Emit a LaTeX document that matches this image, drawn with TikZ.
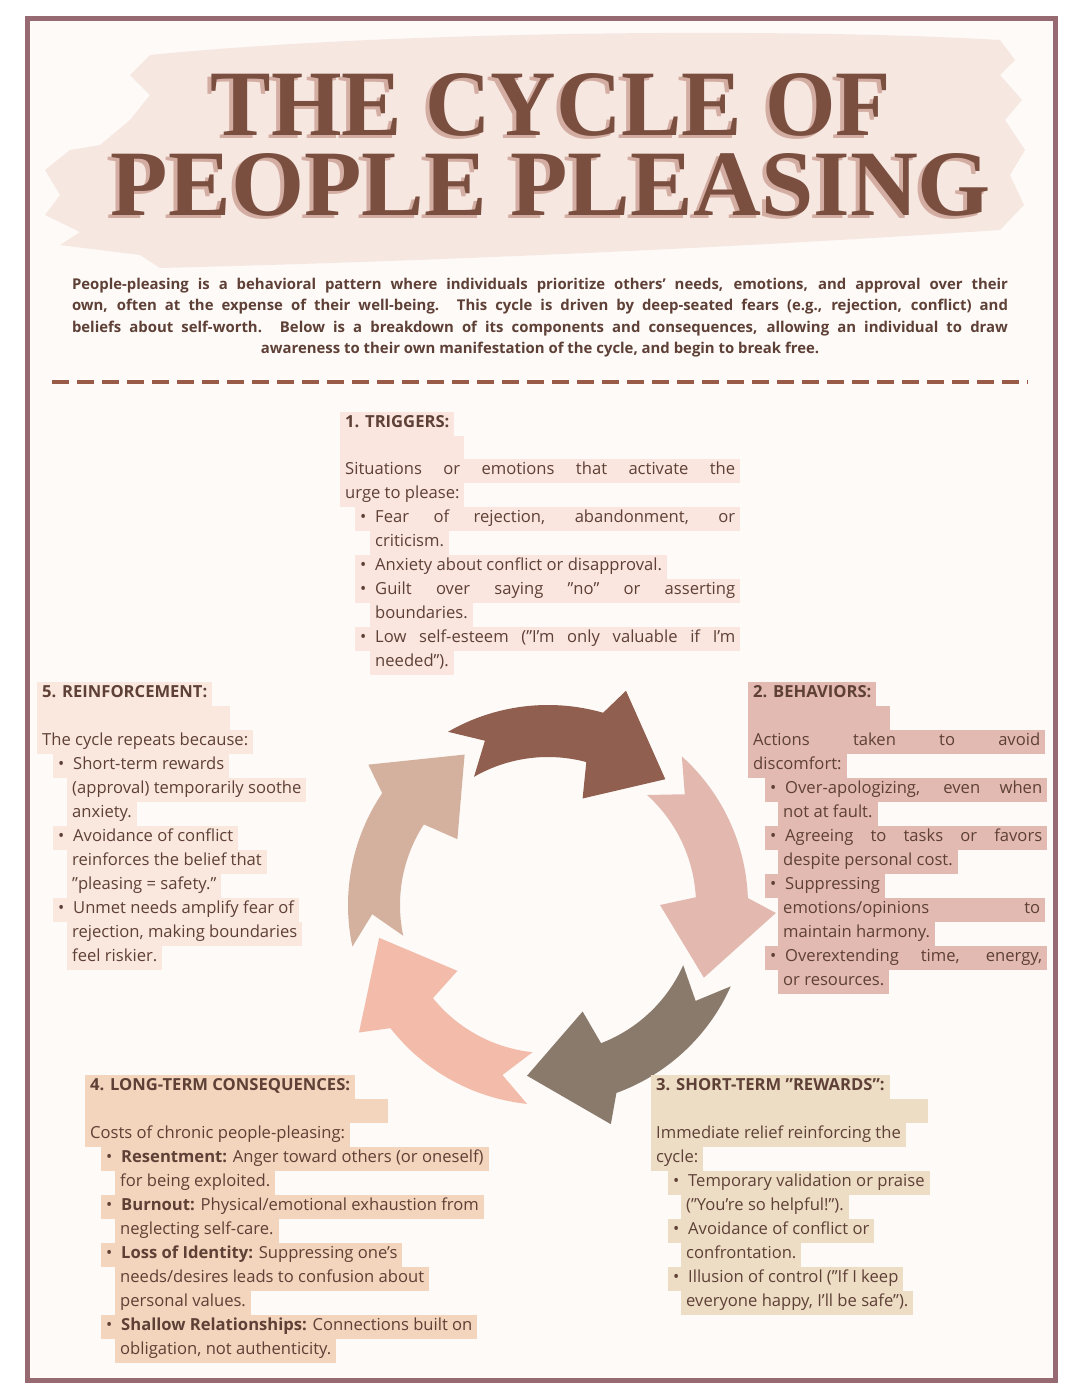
\documentclass[tikz,border=0pt]{standalone}
\usepackage{fontspec}
\setmainfont{Open Sans}
\newfontfamily\titlefont{Liberation Serif}
\usepackage{graphicx}
\definecolor{bord}{HTML}{976A71}
\definecolor{bg}{HTML}{FDFAF8}
\definecolor{ink}{HTML}{5E4036}
\definecolor{ttl}{HTML}{7A4F40}
\definecolor{shad}{HTML}{D3ADA2}
\definecolor{brush}{HTML}{F7E7E1}
\definecolor{dashc}{HTML}{9A5A48}
\definecolor{hA}{HTML}{FAE6DE}
\definecolor{hB}{HTML}{E3BAB2}
\definecolor{hC}{HTML}{EDDDC5}
\definecolor{hD}{HTML}{F3D4BC}
\definecolor{hE}{HTML}{FAE8DE}
\definecolor{aA}{HTML}{915F4F}
\definecolor{aB}{HTML}{E2B8AF}
\definecolor{aC}{HTML}{8A7A6C}
\definecolor{aD}{HTML}{F3BCAA}
\definecolor{aE}{HTML}{D4B19E}
\tikzset{hlbox/.style={anchor=west,inner xsep=5pt,inner ysep=0pt,minimum height=24.5pt,text=ink,font=\fontsize{16.6}{19}\selectfont}}
\newcommand\hl[4]{\node[hlbox,fill=#1] at (#2,#3+2) {\strut #4};}
\newcommand\bl[1]{\makebox[15pt][l]{•}#1}
\newcommand\js[2]{\makebox[#1pt][s]{#2}}
\newcommand\dq{\symbol{34}}
\newcommand\arrowshape[2]{%
\begin{scope}[rotate=#1]
\fill[#2] (120:200) arc[start angle=120,end angle=74,radius=200] -- (70:228) -- (47:172) -- (72:112) -- (75:148) arc[start angle=75,end angle=120,radius=148] -- (111:176) -- cycle;
\end{scope}}
\begin{document}
\begin{tikzpicture}[x=1pt,y=-1pt]
\useasboundingbox (0,0) rectangle (1080,1398);
\fill[white] (0,0) rectangle (1080,1398);
\fill[bg] (27,18) rectangle (1055,1380);
\draw[bord,line width=5pt] (27,18) rectangle (1055,1380);
% brush
\fill[brush] (150,55) .. controls (400,30) and (800,28) .. (1000,40) -- (1015,60) -- (1000,75) -- (1022,100) -- (1005,120) -- (1025,150) -- (1010,175) -- (1024,205) -- (1000,230) .. controls (700,250) and (400,262) .. (160,268) -- (140,255) -- (60,245) -- (80,232) -- (45,215) -- (60,195) -- (45,170) -- (70,150) -- (100,145) -- (130,120) -- (150,95) -- (130,75) -- cycle;
% title
\node[text=shad] (t1s) at (547,108) {\resizebox{680pt}{62pt}{\titlefont\bfseries THE CYCLE OF}};
\node[text=ttl] (t1) at (551,105) {\resizebox{680pt}{62pt}{\titlefont\bfseries THE CYCLE OF}};
\node[text=shad] (t2s) at (547,188) {\resizebox{880pt}{62pt}{\titlefont\bfseries PEOPLE PLEASING}};
\node[text=ttl] (t2) at (551,185) {\resizebox{880pt}{62pt}{\titlefont\bfseries PEOPLE PLEASING}};
% intro
\begin{scope}[every node/.style={text=ink,font=\fontsize{14.9}{17}\selectfont\bfseries,inner sep=0pt}]
\node (i1) at (540,286) {\js{936}{People-pleasing is a behavioral pattern where individuals prioritize others' needs, emotions, and approval over their}};
\node (i2) at (540,307) {\js{936}{own, often at the expense of their well-being. This cycle is driven by deep-seated fears (e.g., rejection, conflict) and}};
\node (i3) at (540,329) {\js{936}{beliefs about self-worth. Below is a breakdown of its components and consequences, allowing an individual to draw}};
\node (i4) at (540,350) {awareness to their own manifestation of the cycle, and begin to break free.};
\end{scope}
\draw[dashc,line width=4pt,dash pattern=on 17pt off 8pt] (52,382) -- (1028,382);
% arrows
\begin{scope}[shift={(548,905)},yscale=-1]
\arrowshape{0}{aA}
\arrowshape{72}{aB}
\arrowshape{144}{aC}
\arrowshape{216}{aD}
\arrowshape{288}{aE}
\end{scope}
% 1 triggers
\hl{hA}{340}{422}{\textbf{1. TRIGGERS:}}
\fill[hA] (340,436) rectangle (464,460);
\hl{hA}{340}{469}{\js{390}{Situations or emotions that activate the}}
\hl{hA}{340}{493}{urge to please:}
\hl{hA}{355}{517}{\bl{\js{360}{Fear of rejection, abandonment, or}}}
\hl{hA}{370}{541}{criticism.}
\hl{hA}{355}{565}{\bl{Anxiety about conflict or disapproval.}}
\hl{hA}{355}{589}{\bl{\js{360}{Guilt over saying \dq no\dq{} or asserting}}}
\hl{hA}{370}{613}{boundaries.}
\hl{hA}{355}{637}{\bl{\js{360}{Low self-esteem (\dq I'm only valuable if I'm}}}
\hl{hA}{370}{661}{needed\dq).}
% 2 behaviors
\hl{hB}{748}{692}{\textbf{2. BEHAVIORS:}}
\fill[hB] (748,706) rectangle (890,730);
\hl{hB}{748}{740}{\js{287}{Actions taken to avoid}}
\hl{hB}{748}{764}{discomfort:}
\hl{hB}{765}{788}{\bl{\js{257}{Over-apologizing, even when}}}
\hl{hB}{778}{812}{not at fault.}
\hl{hB}{765}{836}{\bl{\js{257}{Agreeing to tasks or favors}}}
\hl{hB}{778}{860}{despite personal cost.}
\hl{hB}{765}{884}{\bl{Suppressing}}
\hl{hB}{778}{908}{\js{257}{emotions/opinions to}}
\hl{hB}{778}{932}{maintain harmony.}
\hl{hB}{765}{956}{\bl{\js{257}{Overextending time, energy,}}}
\hl{hB}{778}{980}{or resources.}
% 3 rewards
\hl{hC}{651}{1085}{\textbf{3. SHORT-TERM \dq REWARDS\dq:}}
\fill[hC] (651,1099) rectangle (928,1123);
\hl{hC}{651}{1133}{Immediate relief reinforcing the}
\hl{hC}{651}{1157}{cycle:}
\hl{hC}{668}{1181}{\bl{Temporary validation or praise}}
\hl{hC}{681}{1205}{(\dq You're so helpful!\dq).}
\hl{hC}{668}{1229}{\bl{Avoidance of conflict or}}
\hl{hC}{681}{1253}{confrontation.}
\hl{hC}{668}{1277}{\bl{Illusion of control (\dq If I keep}}
\hl{hC}{681}{1301}{everyone happy, I'll be safe\dq).}
% 4 consequences
\hl{hD}{85}{1085}{\textbf{4. LONG-TERM CONSEQUENCES:}}
\fill[hD] (85,1099) rectangle (388,1123);
\hl{hD}{85}{1133}{Costs of chronic people-pleasing:}
\hl{hD}{101}{1157}{\bl{\textbf{Resentment:} Anger toward others (or oneself)}}
\hl{hD}{115}{1181}{for being exploited.}
\hl{hD}{101}{1205}{\bl{\textbf{Burnout:} Physical/emotional exhaustion from}}
\hl{hD}{115}{1229}{neglecting self-care.}
\hl{hD}{101}{1253}{\bl{\textbf{Loss of Identity:} Suppressing one's}}
\hl{hD}{115}{1277}{needs/desires leads to confusion about}
\hl{hD}{115}{1301}{personal values.}
\hl{hD}{101}{1325}{\bl{\textbf{Shallow Relationships:} Connections built on}}
\hl{hD}{115}{1349}{obligation, not authenticity.}
% 5 reinforcement
\hl{hE}{37}{692}{\textbf{5. REINFORCEMENT:}}
\fill[hE] (37,706) rectangle (230,730);
\hl{hE}{37}{740}{The cycle repeats because:}
\hl{hE}{53}{764}{\bl{Short-term rewards}}
\hl{hE}{67}{788}{(approval) temporarily soothe}
\hl{hE}{67}{812}{anxiety.}
\hl{hE}{53}{836}{\bl{Avoidance of conflict}}
\hl{hE}{67}{860}{reinforces the belief that}
\hl{hE}{67}{884}{\dq pleasing = safety.\dq}
\hl{hE}{53}{908}{\bl{Unmet needs amplify fear of}}
\hl{hE}{67}{932}{rejection, making boundaries}
\hl{hE}{67}{956}{feel riskier.}
\end{tikzpicture}
\end{document}
